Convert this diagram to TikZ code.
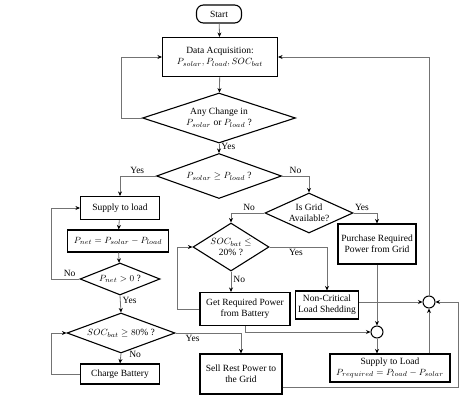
\documentclass[tikz,border=0pt]{standalone}
\usepackage{fontspec}
\setmainfont{Liberation Serif}
\usepackage{amsmath,amssymb}
\usetikzlibrary{shapes.geometric,arrows.meta,positioning}

\begin{document}
\begin{tikzpicture}[x=1pt, y=-1pt,
    font=\fontsize{9.5}{11}\selectfont,
    box/.style={draw, line width=1.1pt, rectangle, align=center, inner sep=1pt},
    decision/.style={draw, line width=1.1pt, diamond, aspect=2.5, inner sep=0pt, align=center},
    junction/.style={draw, line width=1pt, circle, minimum size=12pt, inner sep=0pt},
    flow/.style={draw=black!55, line width=0.8pt, -{Stealth[black, length=4.5pt, width=4pt]}},
    lbl/.style={font=\fontsize{9.5}{11}\selectfont, inner sep=2pt}]
    \useasboundingbox (0,0) rectangle (474,406);

    % main column
    \node[box, rounded corners=7pt, minimum width=45pt, minimum height=18pt] (start) at (219,14) {Start};
    \node[box, minimum width=115pt, minimum height=39pt] (acq) at (220,57)
      {Data Acquisition:\\ $P_{solar}, P_{load}, SOC_{bat}$};
    \node[decision, minimum width=153pt, minimum height=50pt] (change) at (219,118)
      {Any Change in\\ $P_{solar}$ or $P_{load}$ ?};
    \node[decision, minimum width=125pt, minimum height=45pt] (compare) at (219,176)
      {$P_{solar} \geq P_{load}$ ?};

    % surplus branch
    \node[box, minimum width=79pt, minimum height=23pt] (supply) at (120,208) {Supply to load};
    \node[box, minimum width=101pt, minimum height=22pt] (pnet) at (118,241) {$P_{net} = P_{solar} - P_{load}$};
    \node[decision, minimum width=80pt, minimum height=32pt] (pos) at (120,279) {$P_{net} > 0$ ?};
    \node[decision, minimum width=108pt, minimum height=40pt] (full) at (121,333) {$SOC_{bat} \geq 80\%$ ?};
    \node[box, minimum width=79pt, minimum height=20pt] (charge) at (120,374) {Charge Battery};
    \node[box, minimum width=82pt, minimum height=40pt] (sell) at (241,374) {Sell Rest Power to\\ the Grid};

    % deficit branch
    \node[decision, minimum width=88pt, minimum height=40pt] (grid) at (309,213) {Is Grid\\ Available?};
    \node[box, minimum width=78pt, minimum height=40pt, inner sep=2pt] (buy) at (377,244) {Purchase Required\\ Power from Grid};
    \node[decision, minimum width=76pt, minimum height=48pt, aspect=1.5] (low) at (231,247)
      {$SOC_{bat} \leq$\\ 20\% ?};
    \node[box, minimum width=90pt, minimum height=33pt] (batt) at (245,309) {Get Required Power\\ from Battery};
    \node[box, minimum width=63pt, minimum height=28pt] (shed) at (327,305) {Non-Critical\\ Load Shedding};
    \node[box, minimum width=120pt, minimum height=28pt] (load) at (390,368)
      {Supply to Load\\ $P_{required} = P_{load} - P_{solar}$};
    \node[junction] (sum1) at (377,332) {};
    \node[junction] (sum2) at (429,302) {};
    \coordinate (rbus) at (458,302);

    % connectors
    \draw[flow] (start) -- (acq);
    \draw[flow] (acq) -- (change);
    \draw[flow] (change.west) -- ++(-21,0) |- (acq.west);
    \draw[flow] (change.south) -- node[lbl, right, pos=0.35] {Yes} (compare.north);
    \draw[flow] (compare.west) -| node[lbl, above, pos=0.26] {Yes} (supply.north);
    \draw[flow] (compare.east) -| node[lbl, above, pos=0.25] {No} (grid.north);
    \draw[flow] (supply) -- (pnet);
    \draw[flow] (pnet) -- (pos);
    \draw[flow] (pos.west) -- node[lbl, above, pos=0.35] {No} ++(-28,0) |- (supply.west);
    \draw[flow] (pos.south) -- node[lbl, right, pos=0.3] {Yes} (full.north);
    \draw[flow] (full.south) -- node[lbl, right, pos=0.1, xshift=6pt] {No} (charge.north);
    \draw[flow] (charge.west) -- ++(-29,0) |- (full.west);
    \draw[flow] (full.east) -| node[lbl, below, pos=0.13] {Yes} (sell.north);
    \draw[flow] (grid.east) -| node[lbl, above, pos=0.18] {Yes} (buy.north);
    \draw[flow] (grid.west) -| node[lbl, above, pos=0.23] {No} (low.north);
    \draw[flow] (low.east) -| node[lbl, below, pos=0.23] {Yes} (shed.north);
    \draw[flow] (low.south) -- node[lbl, right, pos=0.4] {No} (low.south |- batt.north);
    \draw[flow] (batt.west) -- ++(-22,0) |- (low.west);
    \draw[flow] (batt.south) |- (sum1.west);
    \draw[flow] (buy.south) -- (sum1.north);
    \draw[flow] (sum1.south) -- (sum1.south |- load.north);
    \draw[flow] (sum2.west -| shed.east) -- (sum2.west);
    \draw[flow] (load.north -| sum2) -- (sum2.south);
    \draw[flow] ([yshift=-13pt]sell.east) -| (rbus) -- (sum2.east);
    \draw[flow] (sum2.north) |- (acq.east);
\end{tikzpicture}
\end{document}
